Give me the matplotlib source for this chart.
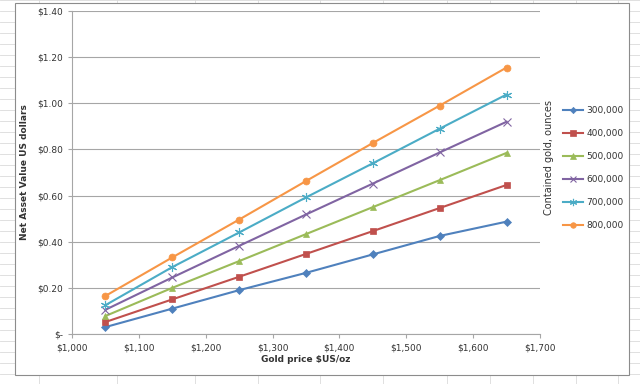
import matplotlib.pyplot as plt
from matplotlib.lines import Line2D
from matplotlib.patches import Rectangle
from matplotlib.ticker import FuncFormatter, MultipleLocator

gold_price = [1050, 1150, 1250, 1350, 1450, 1550, 1650]
series_names = ["300,000", "400,000", "500,000", "600,000", "700,000", "800,000"]
nav_300k = [0.03, 0.11, 0.19, 0.265, 0.345, 0.425, 0.487]
nav_400k = [0.052, 0.150, 0.248, 0.347, 0.446, 0.546, 0.646]
nav_500k = [0.078, 0.200, 0.316, 0.433, 0.550, 0.667, 0.785]
nav_600k = [0.105, 0.245, 0.382, 0.518, 0.652, 0.787, 0.920]
nav_700k = [0.125, 0.290, 0.440, 0.592, 0.740, 0.890, 1.038]
nav_800k = [0.165, 0.332, 0.496, 0.663, 0.828, 0.990, 1.155]
all_series = [nav_300k, nav_400k, nav_500k, nav_600k, nav_700k, nav_800k]

colors = ["#4F81BD", "#C0504D", "#9BBB59", "#8064A2", "#4BACC6", "#F79646"]
markers = ["D", "s", "^", "x", (6, 2, 0), "o"]
msizes = [4, 5, 5, 6, 6.5, 5]

fig = plt.figure(figsize=(6.4, 3.84), dpi=100)

# spreadsheet background gridlines
for yy in range(0, 384, 11):
  fig.add_artist(Line2D([0, 1], [1 - yy / 384] * 2, color="#dadada", lw=0.6, zorder=0))
for xx in [39, 117, 195, 258, 320, 383, 447, 490, 533, 576, 618]:
  fig.add_artist(Line2D([xx / 640] * 2, [0, 1], color="#dadada", lw=0.6, zorder=0))

# chart area
fig.add_artist(Rectangle((15 / 640, 1 - 375 / 384), 614 / 640, 372 / 384,
                         facecolor="white", edgecolor="#8c8c8c", lw=0.8, zorder=1))

ax = fig.add_axes([72 / 640, 1 - 334 / 384, 468 / 640, 323 / 384])
ax.set_zorder(2)
ax.patch.set_alpha(0)

for vals, name, c, m, ms in zip(all_series, series_names, colors, markers, msizes):
  ax.plot(gold_price, vals, color=c, marker=m, markersize=ms, lw=1.5,
          markeredgewidth=0.8 if m in ("x", (6, 2, 0)) else 0.5, label=name)

ax.set_xlim(1000, 1700)
ax.set_ylim(0, 1.4)
ax.xaxis.set_major_locator(MultipleLocator(100))
ax.yaxis.set_major_locator(MultipleLocator(0.2))
ax.xaxis.set_major_formatter(FuncFormatter(lambda v, p: f"${v:,.0f}"))
ax.yaxis.set_major_formatter(FuncFormatter(lambda v, p: "$-" if abs(v) < 1e-9 else f"${v:.2f}"))
ax.grid(axis="y", color="#a6a6a6", lw=0.8)
ax.set_axisbelow(True)
for s in ["top", "right"]:
  ax.spines[s].set_visible(False)
for s in ["left", "bottom"]:
  ax.spines[s].set_color("#a6a6a6")
ax.tick_params(colors="#a6a6a6", labelcolor="#333333", labelsize=6.5, length=3)

ax.set_xlabel("Gold price $US/oz", fontsize=6.5, fontweight="bold", color="#333333", labelpad=2)
ax.set_ylabel("Net Asset Value US dollars", fontsize=6.5, fontweight="bold", color="#333333", labelpad=6)

handles, labels = ax.get_legend_handles_labels()
fig.legend(handles, labels, loc="upper left", bbox_to_anchor=(555 / 640, 1 - 98 / 384),
           frameon=False, fontsize=6.5, labelspacing=1.55, handlelength=2.2,
           handletextpad=0.4, labelcolor="#333333", markerscale=0.8)
fig.text(549 / 640, 1 - 157 / 384, "Contained gold, ounces", rotation=90, fontsize=7,
         color="#333333", ha="center", va="center")

fig.savefig("out.png", dpi=100)
